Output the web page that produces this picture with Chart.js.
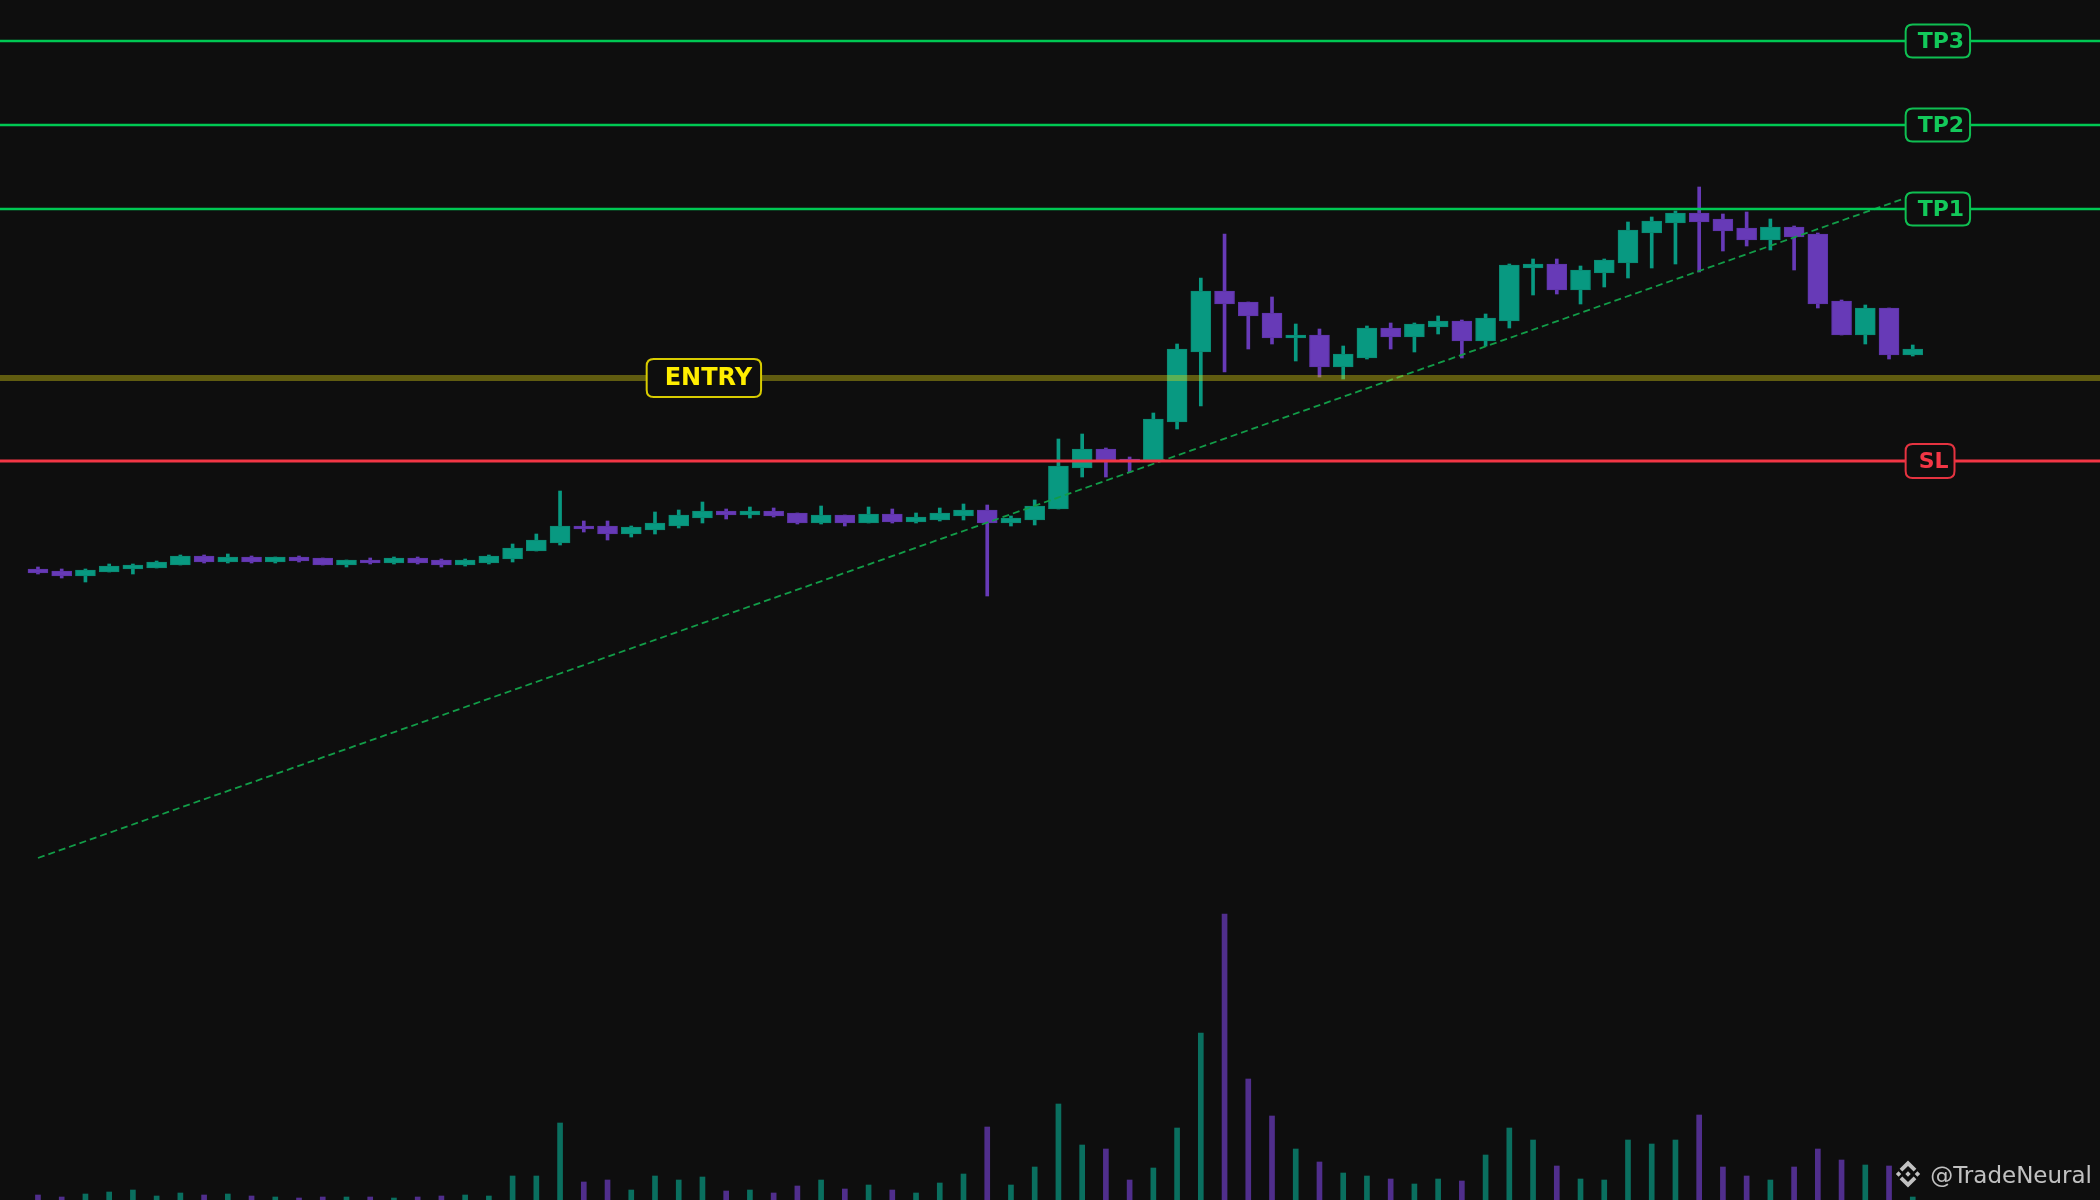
<!DOCTYPE html>
<html>
<head>
<meta charset="utf-8">
<title>Trade setup</title>
<script src="https://cdn.jsdelivr.net/npm/chart.js@4.4.1/dist/chart.umd.min.js"></script>
<style>
  html, body { margin: 0; padding: 0; background: #0e0e0e; }
  canvas { display: block; }
</style>
</head>
<body>
<canvas id="tradeChart" width="2100" height="1200"></canvas>
<script>
"use strict";

let opens = [98.09, 98.07, 98.02, 98.06, 98.09, 98.10, 98.13, 98.22, 98.16, 98.21,
  98.16, 98.21, 98.20, 98.13, 98.18, 98.15, 98.20, 98.18, 98.13, 98.15,
  98.19, 98.27, 98.35, 98.52, 98.52, 98.44, 98.48, 98.52, 98.60, 98.67,
  98.63, 98.67, 98.65, 98.55, 98.63, 98.55, 98.64, 98.56, 98.58, 98.62,
  98.68, 98.55, 98.58, 98.69, 99.10, 99.29, 99.19, 99.18, 99.56, 100.26,
  100.87, 100.76, 100.65, 100.40, 100.43, 100.11, 100.20, 100.50, 100.41, 100.51,
  100.57, 100.37, 100.57, 101.10, 101.14, 100.88, 101.05, 101.15, 101.45, 101.55,
  101.65, 101.59, 101.50, 101.38, 101.51, 101.44, 100.77, 100.43, 100.70, 100.23];

let highs = [98.11, 98.09, 98.09, 98.14, 98.14, 98.17, 98.23, 98.23, 98.24, 98.22,
  98.21, 98.22, 98.20, 98.18, 98.20, 98.21, 98.21, 98.19, 98.19, 98.23,
  98.34, 98.44, 98.87, 98.57, 98.57, 98.52, 98.66, 98.68, 98.76, 98.69,
  98.71, 98.70, 98.65, 98.72, 98.63, 98.71, 98.69, 98.65, 98.70, 98.74,
  98.73, 98.62, 98.78, 99.39, 99.44, 99.30, 99.21, 99.65, 100.34, 101.00,
  101.44, 100.76, 100.81, 100.54, 100.49, 100.32, 100.52, 100.55, 100.55, 100.62,
  100.58, 100.64, 101.14, 101.19, 101.19, 101.12, 101.19, 101.56, 101.61, 101.67,
  101.91, 101.64, 101.66, 101.59, 101.52, 101.45, 100.78, 100.73, 100.70, 100.33];

let lows = [98.04, 98.00, 97.96, 98.06, 98.04, 98.10, 98.13, 98.15, 98.15, 98.15,
  98.15, 98.16, 98.13, 98.11, 98.14, 98.14, 98.14, 98.11, 98.12, 98.14,
  98.16, 98.27, 98.33, 98.46, 98.38, 98.41, 98.44, 98.50, 98.55, 98.59,
  98.60, 98.61, 98.54, 98.54, 98.52, 98.55, 98.55, 98.55, 98.57, 98.58,
  97.82, 98.52, 98.53, 98.69, 99.01, 99.01, 99.06, 99.18, 99.49, 99.72,
  100.06, 100.29, 100.34, 100.17, 100.01, 99.99, 100.19, 100.29, 100.26, 100.44,
  100.20, 100.32, 100.50, 100.83, 100.84, 100.74, 100.91, 101.00, 101.10, 101.14,
  101.06, 101.27, 101.32, 101.28, 101.08, 100.70, 100.43, 100.34, 100.19, 100.22];

let closes = [98.05, 98.02, 98.08, 98.12, 98.13, 98.16, 98.22, 98.16, 98.21, 98.16,
  98.21, 98.17, 98.13, 98.18, 98.15, 98.20, 98.15, 98.13, 98.18, 98.22,
  98.30, 98.38, 98.52, 98.49, 98.44, 98.51, 98.55, 98.63, 98.67, 98.63,
  98.67, 98.62, 98.55, 98.63, 98.55, 98.64, 98.56, 98.61, 98.65, 98.68,
  98.55, 98.60, 98.72, 99.12, 99.29, 99.18, 99.16, 99.59, 100.29, 100.87,
  100.74, 100.62, 100.40, 100.43, 100.11, 100.24, 100.50, 100.41, 100.54, 100.57,
  100.37, 100.60, 101.13, 101.14, 100.88, 101.08, 101.18, 101.48, 101.57, 101.65,
  101.56, 101.47, 101.38, 101.51, 101.41, 100.74, 100.43, 100.70, 100.23, 100.29];

let volumes = [50, 30, 60, 80, 100, 40, 70, 50, 60, 40,
  30, 20, 30, 30, 30, 20, 30, 40, 50, 40,
  240, 240, 770, 180, 200, 100, 240, 200, 230, 90,
  100, 70, 140, 200, 110, 150, 100, 70, 170, 260,
  730, 150, 330, 960, 550, 510, 200, 320, 720, 1670,
  2860, 1210, 840, 510, 380, 270, 240, 210, 160, 210,
  190, 450, 720, 600, 340, 210, 200, 600, 560, 600,
  850, 330, 240, 200, 330, 510, 400, 350, 340, 30];

let levelNames = ["TP3", "TP2", "TP1", "ENTRY", "SL"];
let levelPrices = [103.37, 102.53, 101.69, 100.00, 99.17];
let levelTagX = [78.7, 78.7, 78.7, 25.65, 78.7];

let trendX = [0, 78.7];
let trendY = [95.20, 101.80];

let xMin = -1.6;
let xMax = 86.89;

let upColor = "#089981";
let downColor = "#673ab7";
let bgColor = "#0e0e0e";

let levelStyles = {
  TP3: { line: "#00c853", width: 2.6, text: "#13c95a", border: "#0fbf52", font: 22, padL: 12, padR: 6, h: 33 },
  TP2: { line: "#00c853", width: 2.6, text: "#13c95a", border: "#0fbf52", font: 22, padL: 12, padR: 6, h: 33 },
  TP1: { line: "#00c853", width: 2.6, text: "#13c95a", border: "#0fbf52", font: 22, padL: 12, padR: 6, h: 33 },
  ENTRY: { line: "rgba(220, 210, 20, 0.4)", width: 6, text: "#ffee00", border: "#d8cc00", font: 24, padL: 18, padR: 9, h: 38 },
  SL: { line: "#f23645", width: 3, text: "#f23645", border: "#e53340", font: 22, padL: 13, padR: 6, h: 34 },
};

let bodyData = [];
let wickData = [];
let volData = [];
let candleColors = [];
let candleBorders = [];
let volColors = [];

for (let i = 0; i < opens.length; i++) {
  let up = closes[i] >= opens[i];
  bodyData.push({ x: i, y: [opens[i], closes[i]] });
  wickData.push({ x: i, y: [lows[i], highs[i]] });
  volData.push({ x: i, y: volumes[i] });
  candleColors.push(up ? upColor : downColor);
  candleBorders.push(up ? "#0b8a73" : "#5e34a8");
  volColors.push(up ? "rgba(8, 153, 129, 0.7)" : "rgba(103, 58, 183, 0.75)");
}

let datasets = [];

datasets.push({
  type: "bar",
  data: volData,
  yAxisID: "yv",
  backgroundColor: volColors,
  barThickness: 5,
  grouped: false,
  order: 6,
});

datasets.push({
  type: "bar",
  data: wickData,
  yAxisID: "y",
  backgroundColor: candleColors,
  barThickness: 3,
  grouped: false,
  order: 5,
});

datasets.push({
  type: "bar",
  data: bodyData,
  yAxisID: "y",
  backgroundColor: candleColors,
  borderColor: candleBorders,
  borderWidth: 1,
  borderSkipped: false,
  barThickness: 20,
  minBarLength: 3,
  grouped: false,
  order: 4,
});

datasets.push({
  type: "line",
  data: [{ x: trendX[0], y: trendY[0] }, { x: trendX[1], y: trendY[1] }],
  yAxisID: "y",
  borderColor: "#129c48",
  borderWidth: 1.8,
  borderDash: [7, 4],
  pointRadius: 0,
  order: 2,
});

for (let i = 0; i < levelNames.length; i++) {
  let st = levelStyles[levelNames[i]];
  datasets.push({
    type: "line",
    data: [{ x: xMin, y: levelPrices[i] }, { x: xMax, y: levelPrices[i] }],
    yAxisID: "y",
    borderColor: st.line,
    borderWidth: st.width,
    pointRadius: 0,
    order: 1,
  });
}

function roundBox(ctx, x, y, w, h, r) {
  ctx.beginPath();
  ctx.moveTo(x + r, y);
  ctx.lineTo(x + w - r, y);
  ctx.quadraticCurveTo(x + w, y, x + w, y + r);
  ctx.lineTo(x + w, y + h - r);
  ctx.quadraticCurveTo(x + w, y + h, x + w - r, y + h);
  ctx.lineTo(x + r, y + h);
  ctx.quadraticCurveTo(x, y + h, x, y + h - r);
  ctx.lineTo(x, y + r);
  ctx.quadraticCurveTo(x, y, x + r, y);
  ctx.closePath();
}

function drawLogo(ctx, cx, cy, s) {
  // small diamond-style exchange logo next to the watermark
  ctx.beginPath();
  ctx.moveTo(cx, cy - s); ctx.lineTo(cx + s * 0.62, cy - s * 0.38); ctx.lineTo(cx + s * 0.42, cy - s * 0.18);
  ctx.lineTo(cx, cy - s * 0.6); ctx.lineTo(cx - s * 0.42, cy - s * 0.18); ctx.lineTo(cx - s * 0.62, cy - s * 0.38);
  ctx.closePath();
  ctx.moveTo(cx, cy + s); ctx.lineTo(cx + s * 0.62, cy + s * 0.38); ctx.lineTo(cx + s * 0.42, cy + s * 0.18);
  ctx.lineTo(cx, cy + s * 0.6); ctx.lineTo(cx - s * 0.42, cy + s * 0.18); ctx.lineTo(cx - s * 0.62, cy + s * 0.38);
  ctx.closePath();
  let small = [[0, 0, 0.2], [-0.7, 0, 0.2], [0.7, 0, 0.2]];
  for (let k = 0; k < small.length; k++) {
    let px = cx + small[k][0] * s;
    let py = cy + small[k][1] * s;
    let r = small[k][2] * s;
    ctx.moveTo(px, py - r); ctx.lineTo(px + r, py); ctx.lineTo(px, py + r); ctx.lineTo(px - r, py);
    ctx.closePath();
  }
  ctx.fill();
}

let tagPlugin = {
  id: "tradeTags",
  beforeDraw(chart) {
    let ctx = chart.ctx;
    ctx.save();
    ctx.fillStyle = bgColor;
    ctx.fillRect(0, 0, chart.width, chart.height);
    ctx.restore();
  },
  afterDatasetsDraw(chart) {
    let ctx = chart.ctx;
    let xs = chart.scales.x;
    let ys = chart.scales.y;
    ctx.save();
    for (let i = 0; i < levelNames.length; i++) {
      let name = levelNames[i];
      let st = levelStyles[name];
      ctx.font = "bold " + st.font + "px 'DejaVu Sans'";
      let tw = ctx.measureText(name).width;
      let left = xs.getPixelForValue(levelTagX[i]);
      let cy = ys.getPixelForValue(levelPrices[i]);
      let w = st.padL + tw + st.padR;
      roundBox(ctx, left, cy - st.h / 2, w, st.h, 7);
      ctx.fillStyle = bgColor;
      ctx.fill();
      ctx.lineWidth = 2;
      ctx.strokeStyle = st.border;
      ctx.stroke();
      ctx.fillStyle = st.text;
      ctx.textBaseline = "middle";
      ctx.textAlign = "left";
      ctx.fillText(name, left + st.padL, cy + 1);
    }

    ctx.fillStyle = "rgba(225, 225, 225, 0.85)";
    drawLogo(ctx, chart.width - 192, chart.height - 26, 13.5);
    ctx.font = "23px 'DejaVu Sans'";
    ctx.textAlign = "right";
    ctx.textBaseline = "alphabetic";
    ctx.fillText("@TradeNeural", chart.width - 8, chart.height - 17);
    ctx.restore();
  },
};

let ctx = document.getElementById("tradeChart").getContext("2d");
let tradeChart = new Chart(ctx, {
  data: { datasets: datasets },
  options: {
    responsive: false,
    animation: false,
    devicePixelRatio: 1,
    layout: { padding: 0 },
    plugins: {
      legend: { display: false },
      tooltip: { enabled: false },
    },
    scales: {
      x: { type: "linear", min: xMin, max: xMax, offset: false, display: false },
      y: { type: "linear", min: 91.78, max: 103.78, display: false },
      yv: { type: "linear", min: 0, max: 12000, display: false },
    },
  },
  plugins: [tagPlugin],
});
</script>
</body>
</html>
